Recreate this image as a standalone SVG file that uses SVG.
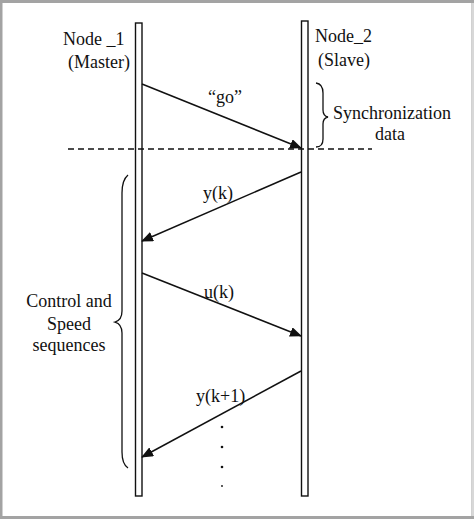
<svg xmlns="http://www.w3.org/2000/svg" width="474" height="519" viewBox="0 0 474 519">
<style>
  text { font-family: "Liberation Serif", "Times New Roman", serif; font-size: 18px; fill: #111; }
  .life { fill: #fff; stroke: #111; stroke-width: 1.4; }
  .msg { stroke: #111; stroke-width: 1.5; fill: none; }
  .brace { stroke: #111; stroke-width: 1.3; fill: none; }
  .dash { stroke: #111; stroke-width: 1.3; stroke-dasharray: 6 4; }
  .mid { text-anchor: middle; }
</style>
<defs>
  <marker id="ah" markerWidth="12" markerHeight="10" refX="11" refY="5" orient="auto" markerUnits="userSpaceOnUse">
    <path d="M0,0 L12,5 L0,10 Z" fill="#111"/>
  </marker>
</defs>
<rect x="0" y="0" width="474" height="519" fill="#a3a3a3"/>
<rect x="2.5" y="3" width="469" height="513" fill="#fff"/>
<rect x="472" y="3" width="2" height="513" fill="#d8d8d8"/>

<g id="node1">
  <rect class="life" x="135.5" y="23" width="6.5" height="473"/>
  <text x="63" y="45">Node _1</text>
  <text x="68" y="68">(Master)</text>
</g>
<g id="node2">
  <rect class="life" x="301.5" y="21" width="6.5" height="475"/>
  <text x="315" y="42">Node_2</text>
  <text x="318" y="66">(Slave)</text>
</g>

<g id="sync">
  <line class="dash" x1="68" y1="149" x2="372" y2="149"/>
  <path class="brace" d="M316,83 Q323,84 323,93 L323,110 Q323,116 328,117 Q323,118 323,124 L323,139 Q323,147 316,147"/>
  <text x="333" y="119">Synchronization</text>
  <text x="375" y="140">data</text>
</g>

<g id="control">
  <path class="brace" d="M128,175 Q122,180 122,193 L122,311 Q122,320 115,322 Q122,324 122,333 L122,452 Q122,464 128,468"/>
  <text class="mid" x="69" y="307">Control and</text>
  <text class="mid" x="69" y="330">Speed</text>
  <text class="mid" x="69" y="351">sequences</text>
</g>

<g id="connectors">
  <line class="msg" x1="142" y1="84" x2="301" y2="148" marker-end="url(#ah)"/>
  <line class="msg" x1="301" y1="172" x2="142" y2="241" marker-end="url(#ah)"/>
  <line class="msg" x1="142" y1="273" x2="301" y2="336" marker-end="url(#ah)"/>
  <line class="msg" x1="301" y1="371" x2="142" y2="457" marker-end="url(#ah)"/>
</g>

<g id="labels">
  <text x="208" y="103">“go”</text>
  <text x="203" y="199">y(k)</text>
  <text x="204" y="298">u(k)</text>
  <text x="196" y="402">y(k+1)</text>
</g>

<g id="dots" fill="#111">
  <circle cx="222" cy="427" r="1.3"/>
  <circle cx="222" cy="447" r="1.3"/>
  <circle cx="222" cy="467" r="1.3"/>
  <circle cx="222" cy="486" r="0.9"/>
</g>
</svg>
